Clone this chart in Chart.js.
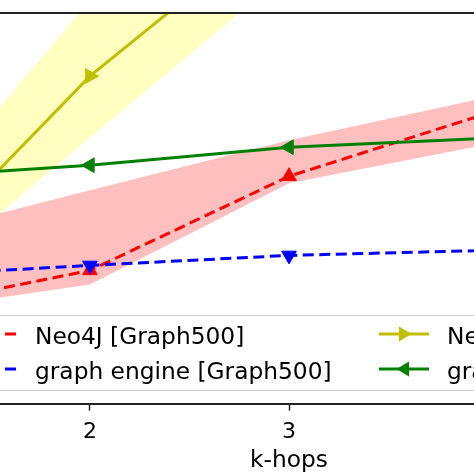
<!DOCTYPE html>
<html>
<head>
<meta charset="utf-8">
<script src="https://cdn.jsdelivr.net/npm/chart.js@4.4.1/dist/chart.umd.min.js"></script>
<style>
  html, body { margin: 0; padding: 0; background: #fff; }
  #frame { position: relative; width: 474px; height: 474px; overflow: hidden; background: #fff; }
  #hops { position: absolute; left: -149px; top: 0; }
  #legend-box {
    position: absolute; left: -70px; top: 315px; width: 720px; height: 76px;
    box-sizing: border-box; border: 1.5px solid #cfcfcf; border-radius: 4px;
    background: rgba(255, 255, 255, 0.8);
  }
  .lg-text {
    position: absolute; white-space: nowrap;
    font-family: "DejaVu Sans", sans-serif; font-size: 23.3px; line-height: 27px; color: #000;
  }
  .lg-handle { position: absolute; overflow: visible; }
</style>
</head>
<body>
<div id="frame">
  <canvas id="hops" width="876" height="480"></canvas>
  <div id="legend-box"></div>
</div>
<script>
// k-hops vs. query time, cropped view (only hops 2..3 fully visible)
const hops = [1, 2, 3, 4];
const seriesLabels = ["Neo4J [Graph500]", "graph engine [Graph500]", "Neo4J", "graph engine"];

const neo4jGraph500 = [0.93, 1.33, 2.27, 2.90];
const neo4jGraph500Low = [0.90, 1.19, 2.20, 2.59];
const neo4jGraph500High = [1.62, 2.13, 2.63, 3.06];
const engineGraph500 = [1.27, 1.38, 1.48, 1.53];
const neo4jOther = [1.22, 3.27, 4.88, 6.43];
const neo4jOtherLow = [0.98, 2.66, 4.31, 5.73];
const neo4jOtherHigh = [1.68, 4.02, 5.53, 7.13];
const engineOther = [2.25, 2.38, 2.56, 2.65];

const xRange = [0.8, 5.2];
const yRange = [0, 3.9];

// styles
const RED = "#ff0000", BLUE = "#0000ff", OLIVE = "#bfbf00", GREEN = "#008000";
const DASH = [11, 5.5];

function pts(arr) {
  return hops.map((x, i) => ({ x: x, y: arr[i] }));
}

function lineSet(label, arr, color, dashed, rotation, order) {
  return {
    label: label,
    data: pts(arr),
    borderColor: color,
    backgroundColor: color,
    borderWidth: 3,
    borderDash: dashed ? DASH : [],
    pointStyle: "triangle",
    rotation: rotation,
    pointRadius: 8.5,
    pointBorderWidth: 1,
    pointBorderColor: color,
    pointBackgroundColor: color,
    fill: false,
    tension: 0,
    order: order
  };
}

function bandEdge(arr, fill, color) {
  return {
    label: "",
    data: pts(arr),
    borderWidth: 0,
    pointRadius: 0,
    borderColor: "rgba(0,0,0,0)",
    backgroundColor: color,
    fill: fill,
    tension: 0,
    order: 10
  };
}

const datasets = [
  bandEdge(neo4jGraph500Low, false, "rgba(0,0,0,0)"),
  bandEdge(neo4jGraph500High, "-1", "rgba(255, 0, 0, 0.25)"),
  bandEdge(neo4jOtherLow, false, "rgba(0,0,0,0)"),
  bandEdge(neo4jOtherHigh, "-1", "rgba(255, 255, 0, 0.25)"),
  lineSet(seriesLabels[0], neo4jGraph500, RED, true, 0, 4),
  lineSet(seriesLabels[1], engineGraph500, BLUE, true, 180, 3),
  lineSet(seriesLabels[2], neo4jOther, OLIVE, false, 90, 2),
  lineSet(seriesLabels[3], engineOther, GREEN, false, 270, 1)
];

// top spine (matplotlib style frame)
const topSpine = {
  id: "topSpine",
  afterDraw(chart) {
    const { ctx, chartArea } = chart;
    ctx.save();
    ctx.strokeStyle = "#222";
    ctx.lineWidth = 2;
    ctx.beginPath();
    ctx.moveTo(chartArea.left, chartArea.top);
    ctx.lineTo(chartArea.right, chartArea.top);
    ctx.stroke();
    ctx.restore();
  }
};

Chart.defaults.font.family = "'DejaVu Sans', sans-serif";
Chart.defaults.color = "#000";

new Chart(document.getElementById("hops"), {
  type: "line",
  data: { datasets: datasets },
  options: {
    responsive: false,
    animation: false,
    devicePixelRatio: 1,
    layout: { autoPadding: false, padding: { top: 13, bottom: 5, left: 0, right: 0 } },
    plugins: {
      legend: { display: false },
      tooltip: { enabled: false },
      filler: { drawTime: "beforeDatasetsDraw" }
    },
    scales: {
      x: {
        type: "linear",
        min: xRange[0],
        max: xRange[1],
        ticks: { stepSize: 1, includeBounds: false, font: { size: 22 }, color: "#000", padding: 8 },
        grid: { drawOnChartArea: false, drawTicks: true, tickLength: 7, tickColor: "#222", tickWidth: 1.5 },
        border: { display: true, color: "#222", width: 2 },
        title: { display: true, text: "k-hops", font: { size: 23.3 }, color: "#000", padding: { top: -6, bottom: 0 } }
      },
      y: {
        display: false,
        min: yRange[0],
        max: yRange[1]
      }
    }
  },
  plugins: [topSpine]
});

// legend drawn as html over the plot (matplotlib puts it inside the axes)
const frame = document.getElementById("frame");
const legendHandleX = [-33, 379];
const legendRowY = [334, 369];
const legendItems = [
  { s: 4, col: 0, row: 0 },
  { s: 5, col: 0, row: 1 },
  { s: 6, col: 1, row: 0 },
  { s: 7, col: 1, row: 1 }
];

legendItems.forEach(item => {
  const ds = datasets[item.s];
  const hx = legendHandleX[item.col];
  const cy = legendRowY[item.row];

  const svgNS = "http://www.w3.org/2000/svg";
  const svg = document.createElementNS(svgNS, "svg");
  svg.setAttribute("class", "lg-handle");
  svg.setAttribute("width", "50");
  svg.setAttribute("height", "24");
  svg.style.left = hx + "px";
  svg.style.top = (cy - 12) + "px";

  const ln = document.createElementNS(svgNS, "line");
  ln.setAttribute("x1", "0");
  ln.setAttribute("x2", "50");
  ln.setAttribute("y1", "12");
  ln.setAttribute("y2", "12");
  ln.setAttribute("stroke", ds.borderColor);
  ln.setAttribute("stroke-width", "3");
  if (ds.borderDash.length) {
    ln.setAttribute("stroke-dasharray", ds.borderDash.join(" "));
    ln.setAttribute("stroke-dashoffset", "11.5");
  }
  svg.appendChild(ln);

  const tri = document.createElementNS(svgNS, "polygon");
  tri.setAttribute("points", "25,4.5 32.5,17 17.5,17");
  tri.setAttribute("fill", ds.borderColor);
  tri.setAttribute("transform", "rotate(" + ds.rotation + " 25 12)");
  svg.appendChild(tri);
  frame.appendChild(svg);

  const txt = document.createElement("div");
  txt.className = "lg-text";
  txt.textContent = ds.label;
  txt.style.left = (hx + 68) + "px";
  txt.style.top = (cy - 12.5) + "px";
  frame.appendChild(txt);
});
</script>
</body>
</html>
